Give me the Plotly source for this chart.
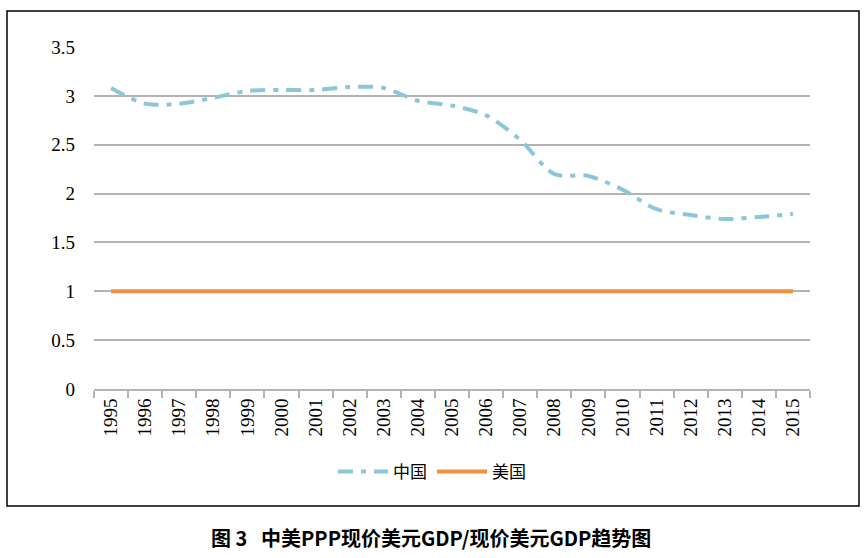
import plotly.graph_objects as go

# ---- data ----
years = [str(y) for y in range(1995, 2016)]
china = [3.08, 2.92, 2.92, 2.98, 3.05, 3.06, 3.06, 3.09, 3.08, 2.95,
         2.90, 2.80, 2.55, 2.20, 2.18, 2.04, 1.84, 1.78, 1.74, 1.76, 1.79]
usa = [1] * len(years)
y_ticks = [0, 0.5, 1, 1.5, 2, 2.5, 3, 3.5]
y_labels = ["0", "0.5", "1", "1.5", "2", "2.5", "3", "3.5"]

W, H = 866, 558
L, R, T, B = 94, 810, 47, 389   # plot area in pixels
pw, ph = R - L, B - T


def px(x):
    return (x - L) / pw


def py(y):
    return (B - y) / ph


serif = "Liberation Serif, Times New Roman, serif"
cjk = "Noto Sans CJK SC, sans-serif"
grey = "#B3B3B3"

fig = go.Figure()
fig.add_trace(go.Scatter(
    x=years, y=china, name="中国", mode="lines",
    line=dict(color="#8EC6D9", width=4, shape="spline", smoothing=0.9,
              dash="15px,8px,5px,8px"),
))
fig.add_trace(go.Scatter(
    x=years, y=usa, name="美国", mode="lines",
    line=dict(color="#EF913E", width=4),
))

fig.update_layout(
    width=W, height=H,
    margin=dict(l=L, r=W - R, t=T, b=H - B),
    paper_bgcolor="white", plot_bgcolor="white",
    showlegend=True,
    legend=dict(orientation="h", x=px(432), xanchor="center",
                y=py(472), yanchor="middle",
                font=dict(family=cjk, size=17, color="black"),
                traceorder="normal", itemwidth=50),
    xaxis=dict(
        type="category", tickson="boundaries", ticks="outside",
        ticklen=7, tickcolor=grey, tickwidth=2,
        showline=True, linecolor=grey, linewidth=2,
        showgrid=False, tickangle=-90,
        tickfont=dict(family=serif, size=19, color="black"),
        range=[-0.5, len(years) - 0.5],
    ),
    yaxis=dict(
        range=[0, 3.5], tickvals=y_ticks, ticktext=y_labels,
        showgrid=True, gridcolor=grey, gridwidth=2,
        zeroline=False, showline=False, ticks="",
        ticklabelstandoff=18,
        tickfont=dict(family=serif, size=19, color="black"),
    ),
    shapes=[dict(type="rect", xref="paper", yref="paper",
                 x0=px(7), x1=px(859), y0=py(506), y1=py(11),
                 line=dict(color="black", width=1.5),
                 fillcolor="rgba(0,0,0,0)", layer="below")],
    annotations=[dict(text="<b>图 3   中美PPP现价美元GDP/现价美元GDP趋势图</b>",
                      xref="paper", yref="paper", x=px(431), y=py(537),
                      xanchor="center", yanchor="middle", showarrow=False,
                      font=dict(family=cjk, size=20, color="black"))],
)

# drop the default 8px page margin so the figure sits at the window corner
fig.write_html("out.html", config={"displayModeBar": False},
               post_script="document.body.style.margin='0';")
